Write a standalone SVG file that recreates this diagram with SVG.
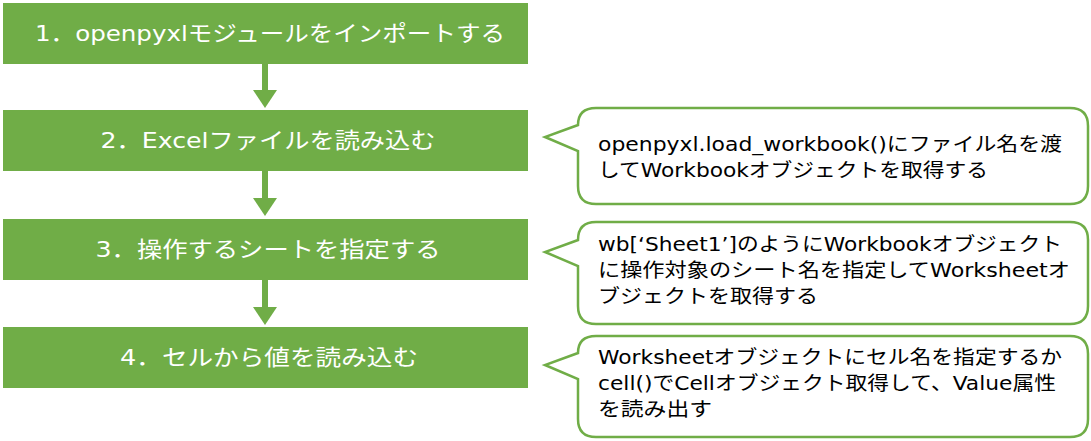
<svg xmlns="http://www.w3.org/2000/svg" width="1091" height="441" viewBox="0 0 1091 441">
<style>
.box{fill:#70AD47}
.bt{font-family:"DejaVu Sans","Noto Sans CJK JP",sans-serif;font-size:22px;fill:#fff;text-anchor:middle}
.co{fill:#fff;stroke:#70AD47;stroke-width:2.5}
.ct{font-family:"DejaVu Sans","Noto Sans CJK JP",sans-serif;font-size:19.5px;fill:#000}
</style>
<g id="connectors" fill="#70AD47">
<rect x="262" y="64" width="6" height="28"/><path d="M253,90 L277,90 L265,108 Z"/>
<rect x="262" y="171" width="6" height="29"/><path d="M253,198 L277,198 L265,216 Z"/>
<rect x="262" y="280" width="6" height="29"/><path d="M253,307 L277,307 L265,325 Z"/>
</g>
<g id="n1"><rect class="box" x="3" y="3" width="525" height="61"/><text class="bt" x="270" y="41" textLength="470" lengthAdjust="spacingAndGlyphs">1．openpyxlモジュールをインポートする</text></g>
<g id="n2"><rect class="box" x="3" y="110" width="525" height="61"/><text class="bt" x="268" y="148" textLength="335" lengthAdjust="spacingAndGlyphs">2．Excelファイルを読み込む</text></g>
<g id="n3"><rect class="box" x="3" y="219" width="525" height="61"/><text class="bt" x="268" y="257" textLength="345" lengthAdjust="spacingAndGlyphs">3．操作するシートを指定する</text></g>
<g id="n4"><rect class="box" x="3" y="327" width="525" height="61"/><text class="bt" x="269" y="365" textLength="298" lengthAdjust="spacingAndGlyphs">4．セルから値を読み込む</text></g>
<g id="c1"><path class="co" d="M596,108 H1070 Q1088,108 1088,126 V186 Q1088,204 1070,204 H596 Q578,204 578,186 V151 L545,137 L578,125 Q578,108 596,108 Z"/>
<text class="ct" x="598" y="151" textLength="464" lengthAdjust="spacingAndGlyphs">openpyxl.load_workbook()にファイル名を渡</text><text class="ct" x="598" y="177" textLength="390" lengthAdjust="spacingAndGlyphs">してWorkbookオブジェクトを取得する</text></g>
<g id="c2"><path class="co" d="M596,222 H1070 Q1088,222 1088,240 V306 Q1088,324 1070,324 H596 Q578,324 578,306 V266 L545,252 L578,240 Q578,222 596,222 Z"/>
<text class="ct" x="598" y="251" textLength="464" lengthAdjust="spacingAndGlyphs">wb[‘Sheet1’]のようにWorkbookオブジェクト</text><text class="ct" x="598" y="277" textLength="472" lengthAdjust="spacingAndGlyphs">に操作対象のシート名を指定してWorksheetオ</text><text class="ct" x="598" y="303" textLength="220" lengthAdjust="spacingAndGlyphs">ブジェクトを取得する</text></g>
<g id="c3"><path class="co" d="M596,336 H1070 Q1088,336 1088,354 V419 Q1088,437 1070,437 H596 Q578,437 578,419 V379 L545,365 L578,353 Q578,336 596,336 Z"/>
<text class="ct" x="598" y="364" textLength="464" lengthAdjust="spacingAndGlyphs">Worksheetオブジェクトにセル名を指定するか</text><text class="ct" x="598" y="390" textLength="458" lengthAdjust="spacingAndGlyphs">cell()でCellオブジェクト取得して、Value属性</text><text class="ct" x="598" y="416" textLength="114" lengthAdjust="spacingAndGlyphs">を読み出す</text></g>
</svg>
